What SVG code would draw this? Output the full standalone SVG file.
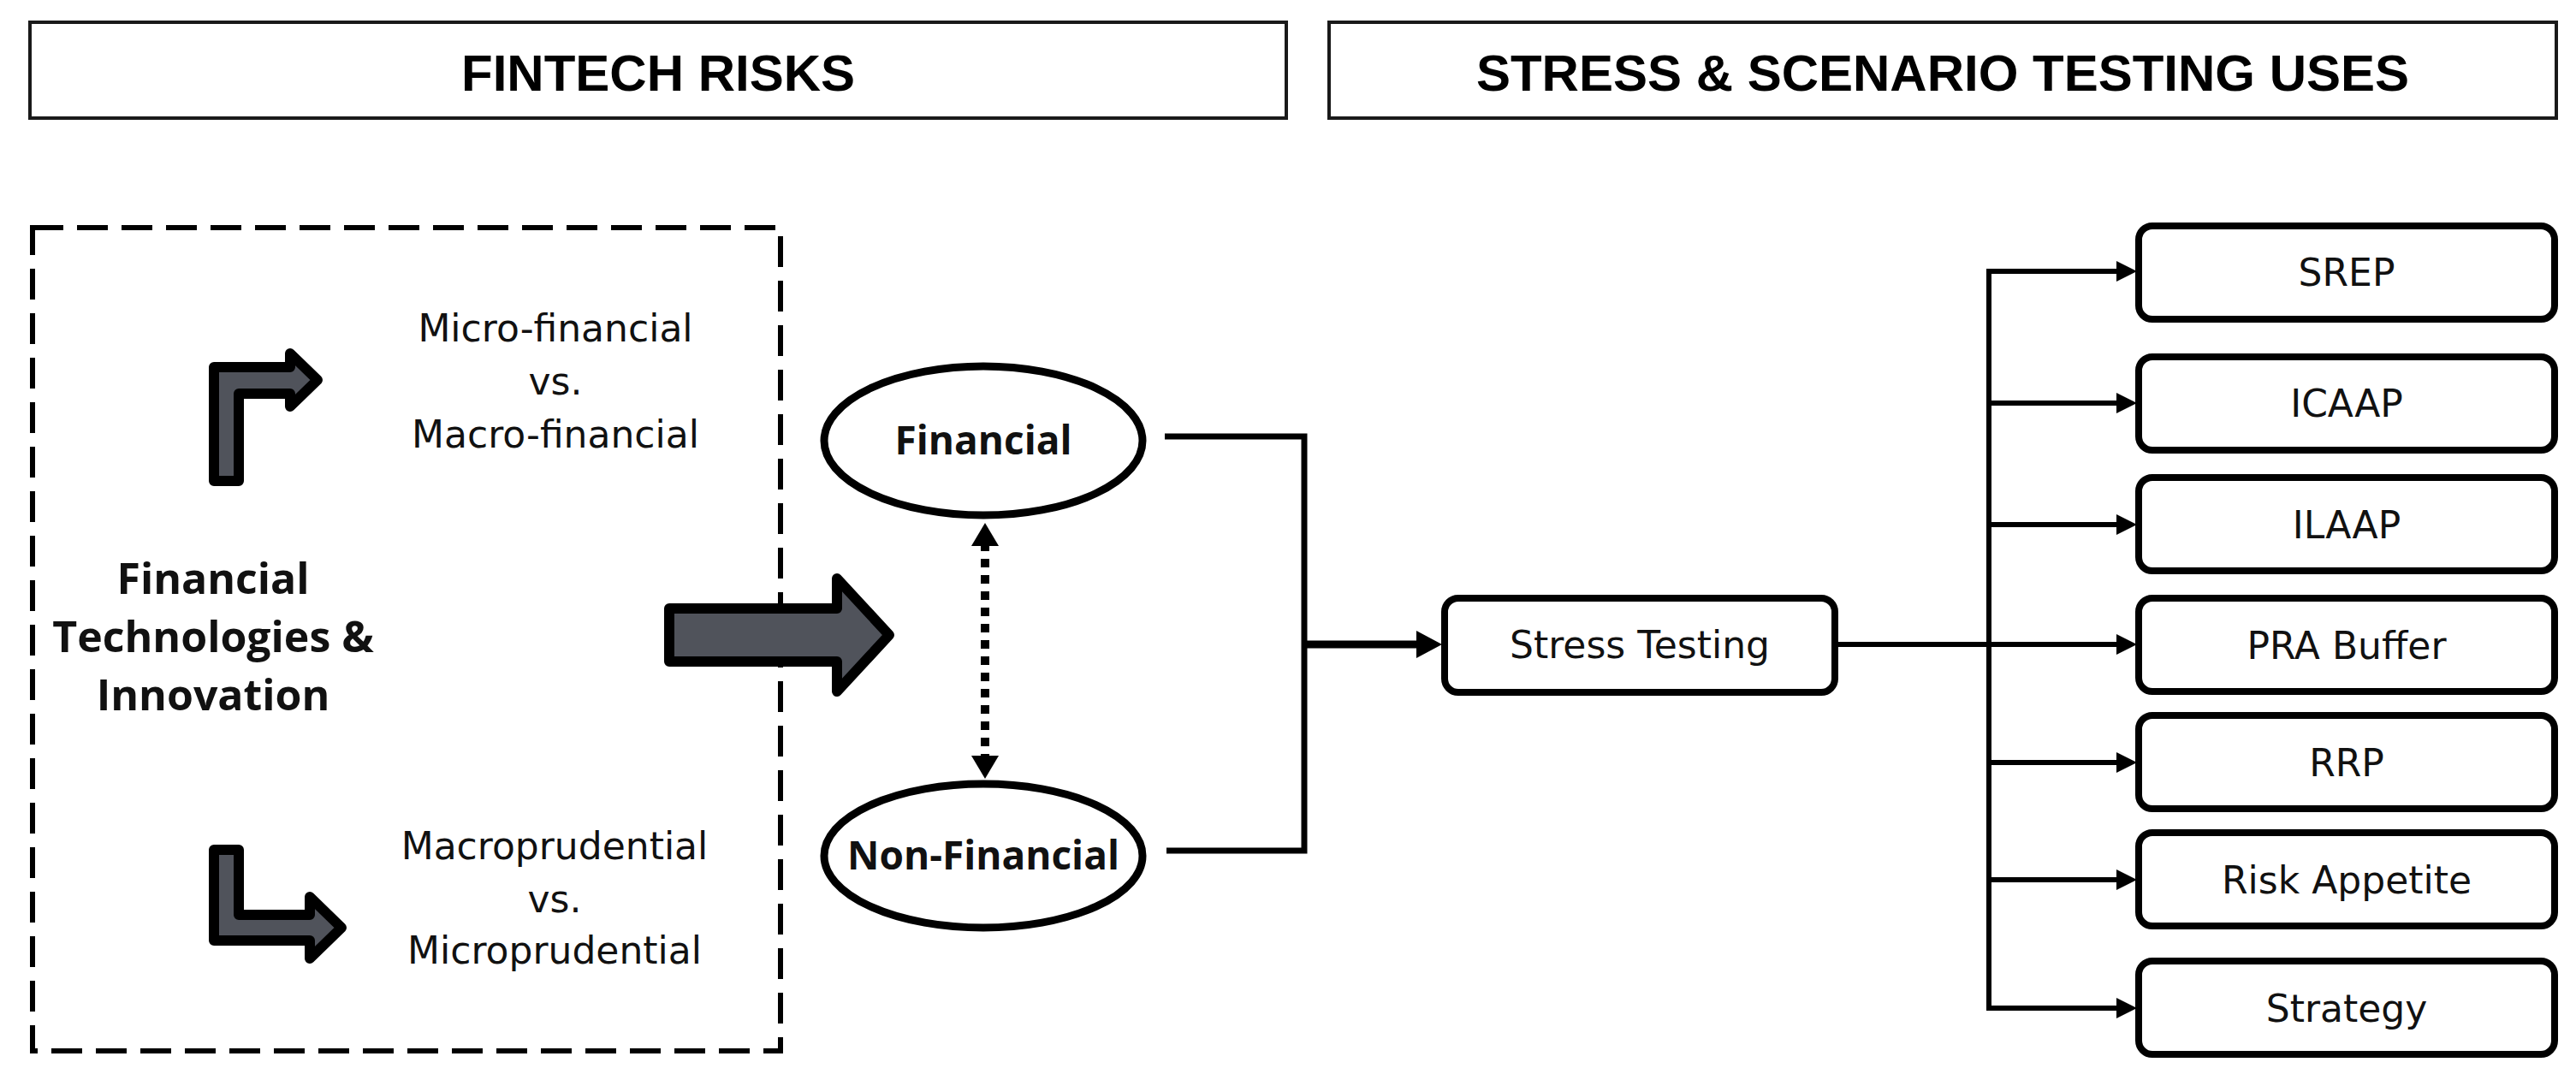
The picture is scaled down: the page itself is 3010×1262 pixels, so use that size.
<svg xmlns="http://www.w3.org/2000/svg" width="3010" height="1262" viewBox="0 0 3010 1262">
<defs>
<style>
.hdr{fill:#fff;stroke:#1a1a1a;stroke-width:4}
.hdrt{font-family:"Liberation Sans",Arial,sans-serif;font-weight:bold;font-size:60px;text-anchor:middle;fill:#000}
.reg{font-family:"DejaVu Sans",sans-serif;font-size:44px;text-anchor:middle;fill:#111}
.bold{font-family:"Open Sans",sans-serif;font-weight:bold;font-size:50px;text-anchor:middle;fill:#111}
.ebold{font-family:"Open Sans",sans-serif;font-weight:bold;font-size:46px;text-anchor:middle;fill:#111}
.garrow{fill:#50535b;stroke:#000;stroke-width:12;stroke-linejoin:round}
.box{fill:#fff;stroke:#000;stroke-width:8}
.ell{fill:#fff;stroke:#000;stroke-width:9}
.wire{fill:none;stroke:#000;stroke-width:6}
</style>
<marker id="ah" viewBox="0 0 24 24" refX="8" refY="12" markerWidth="24" markerHeight="24" markerUnits="userSpaceOnUse" orient="auto">
<path d="M0,0 L24,12 L0,24 Z" fill="#000"/>
</marker>
<marker id="ahL" viewBox="0 0 30 32" refX="6" refY="16" markerWidth="30" markerHeight="32" markerUnits="userSpaceOnUse" orient="auto">
<path d="M0,0 L30,16 L0,32 Z" fill="#000"/>
</marker>
</defs>
<rect width="3010" height="1262" fill="#fff"/>

<g id="header-fintech-risks">
<rect class="hdr" x="35" y="26" width="1468" height="112"/>
<text class="hdrt" x="769" y="106">FINTECH RISKS</text>
</g>
<g id="header-stress-uses">
<rect class="hdr" x="1553" y="26" width="1434" height="112"/>
<text class="hdrt" x="2270" y="106">STRESS &amp; SCENARIO TESTING USES</text>
</g>

<g id="fintech-container">
<rect x="38" y="266" width="874" height="962" fill="none" stroke="#000" stroke-width="6" stroke-dasharray="36 16"/>
</g>

<g id="fintech-innovation">
<text class="bold" x="249" y="694">Financial</text>
<text class="bold" x="249" y="762">Technologies &amp;</text>
<text class="bold" x="249" y="830">Innovation</text>
</g>

<g id="arrow-up-right">
<polygon class="garrow" points="250,562 250,429 339,429 339,413 371,444 339,475 339,460 279,460 279,562"/>
</g>
<g id="micro-macro-financial">
<text class="reg" x="649" y="399">Micro-financial</text>
<text class="reg" x="649" y="461">vs.</text>
<text class="reg" x="649" y="523">Macro-financial</text>
</g>

<g id="arrow-down-right">
<polygon class="garrow" points="250,993 279,993 279,1069 362,1069 362,1048 399,1084 362,1120 362,1099 250,1099"/>
</g>
<g id="macro-micro-prudential">
<text class="reg" x="648" y="1004">Macroprudential</text>
<text class="reg" x="648" y="1066">vs.</text>
<text class="reg" x="648" y="1126">Microprudential</text>
</g>

<g id="big-arrow">
<polygon class="garrow" points="782,711 978,711 978,676 1039,742 978,808 978,773 782,773"/>
</g>

<g id="financial">
<ellipse class="ell" cx="1149" cy="515" rx="186" ry="87"/>
<text class="ebold" x="1149" y="531">Financial</text>
</g>
<g id="non-financial">
<ellipse class="ell" cx="1149" cy="1000" rx="186" ry="84"/>
<text class="ebold" x="1149" y="1016">Non-Financial</text>
</g>

<g id="stress-testing">
<rect class="box" x="1688" y="699" width="456" height="110" rx="16"/>
<text class="reg" x="1916" y="769">Stress Testing</text>
</g>

<g id="srep"><rect class="box" x="2499" y="264" width="486" height="109" rx="16"/><text class="reg" x="2742" y="334">SREP</text></g>
<g id="icaap"><rect class="box" x="2499" y="417" width="486" height="109" rx="16"/><text class="reg" x="2742" y="487">ICAAP</text></g>
<g id="ilaap"><rect class="box" x="2499" y="558" width="486" height="109" rx="16"/><text class="reg" x="2742" y="629">ILAAP</text></g>
<g id="pra-buffer"><rect class="box" x="2499" y="699" width="486" height="109" rx="16"/><text class="reg" x="2742" y="770">PRA Buffer</text></g>
<g id="rrp"><rect class="box" x="2499" y="836" width="486" height="109" rx="16"/><text class="reg" x="2742" y="907">RRP</text></g>
<g id="risk-appetite"><rect class="box" x="2499" y="973" width="486" height="109" rx="16"/><text class="reg" x="2742" y="1044">Risk Appetite</text></g>
<g id="strategy"><rect class="box" x="2499" y="1123" width="486" height="109" rx="16"/><text class="reg" x="2742" y="1194">Strategy</text></g>

<g id="connectors">
<line x1="1151" y1="634" x2="1151" y2="887" stroke="#000" stroke-width="10" stroke-dasharray="10 9"/>
<polygon points="1151,611 1135,638 1167,638" fill="#000"/>
<polygon points="1151,910 1135,883 1167,883" fill="#000"/>
<path d="M1361,510 H1524 V994 H1363" fill="none" stroke="#000" stroke-width="7"/>
<line x1="1524" y1="753" x2="1661" y2="753" stroke="#000" stroke-width="9" marker-end="url(#ahL)"/>
<line class="wire" x1="2144" y1="753" x2="2481" y2="753" marker-end="url(#ah)"/>
<line class="wire" x1="2324" y1="314" x2="2324" y2="1181"/>
<line class="wire" x1="2321" y1="317" x2="2481" y2="317" marker-end="url(#ah)"/>
<line class="wire" x1="2324" y1="471" x2="2481" y2="471" marker-end="url(#ah)"/>
<line class="wire" x1="2324" y1="613" x2="2481" y2="613" marker-end="url(#ah)"/>
<line class="wire" x1="2324" y1="891" x2="2481" y2="891" marker-end="url(#ah)"/>
<line class="wire" x1="2324" y1="1028" x2="2481" y2="1028" marker-end="url(#ah)"/>
<line class="wire" x1="2321" y1="1178" x2="2481" y2="1178" marker-end="url(#ah)"/>
</g>
</svg>
